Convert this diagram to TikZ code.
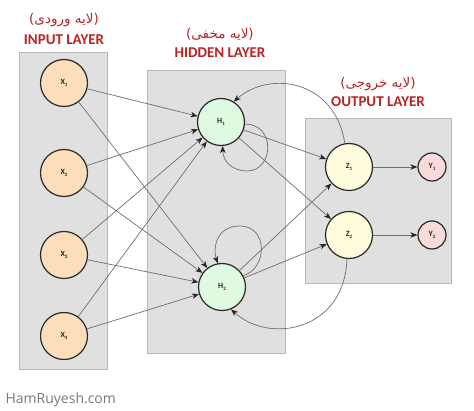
\documentclass[tikz,border=0pt]{standalone}
\usepackage{fontspec}
\setmainfont{Carlito}
\newfontfamily\arabicfont[Script=Arabic]{DejaVu Sans}
\newfontfamily\wmfont{Open Sans}
\TeXXeTstate=1
\usetikzlibrary{arrows.meta}
\definecolor{boxfill}{RGB}{224,224,224}
\definecolor{boxborder}{RGB}{185,185,185}
\definecolor{nodeborder}{RGB}{40,40,40}
\definecolor{infill}{RGB}{253,222,186}
\definecolor{hidfill}{RGB}{222,250,224}
\definecolor{outfill}{RGB}{255,252,222}
\definecolor{yfill}{RGB}{250,218,218}
\definecolor{titlered}{RGB}{185,35,35}
\definecolor{linegray}{RGB}{110,110,110}
\definecolor{wmgray}{RGB}{120,120,120}
\newcommand{\nlab}[2]{#1{\fontsize{5}{5}\selectfont\raisebox{-1.6pt}{#2}}}
\begin{document}
\begin{tikzpicture}[x=1pt,y=-1pt,
  layerbox/.style={draw=boxborder, fill=boxfill, line width=0.9pt, inner sep=0pt},
  neuron/.style={circle, draw=nodeborder, line width=1.2pt, inner sep=0pt, minimum size=47pt,
    font=\bfseries\fontsize{8}{8}\selectfont, text=black!85},
  smallneuron/.style={neuron, minimum size=28pt},
  conn/.style={draw=linegray, line width=0.7pt, -{Stealth[length=7pt,width=5.5pt,inset=2pt,color=black!85]}},
  entitle/.style={font=\bfseries\fontsize{15}{15}\selectfont, text=titlered},
  fatitle/.style={font=\arabicfont\fontsize{13.5}{13.5}\selectfont, text=titlered}
]
\useasboundingbox (0,0) rectangle (474,411);
% layer boxes
\node[layerbox, minimum width=88pt, minimum height=317pt] (inbox) at (63,210.5) {};
\node[layerbox, minimum width=138pt, minimum height=283pt] (hidbox) at (216,211.5) {};
\node[layerbox, minimum width=146pt, minimum height=165pt] (outbox) at (378,200.5) {};
% titles
\node[fatitle] (fain) at (64,20) {\beginR(لایه ورودی)\endR};
\node[entitle] (enin) at (64,40) {INPUT LAYER};
\node[fatitle] (fahid) at (220,34) {\beginR(لایه مخفی)\endR};
\node[entitle] (enhid) at (220,53) {HIDDEN LAYER};
\node[fatitle] (faout) at (378,84) {\beginR(لایه خروجی)\endR};
\node[entitle] (enout) at (378,102) {OUTPUT LAYER};
% neurons
\node[neuron, fill=infill] (x1) at (64,83) {\nlab{X}{1}};
\node[neuron, fill=infill] (x2) at (64,173) {\nlab{X}{2}};
\node[neuron, fill=infill] (x3) at (64,255) {\nlab{X}{3}};
\node[neuron, fill=infill] (x4) at (64,336) {\nlab{X}{4}};
\node[neuron, fill=hidfill] (h1) at (221,122) {\nlab{H}{1}};
\node[neuron, fill=hidfill] (h2) at (222,287) {\nlab{H}{2}};
\node[neuron, fill=outfill] (z1) at (349,167) {\nlab{Z}{1}};
\node[neuron, fill=outfill] (z2) at (349,235) {\nlab{Z}{2}};
\node[smallneuron, fill=yfill] (y1) at (432,167) {\nlab{Y}{1}};
\node[smallneuron, fill=yfill] (y2) at (432,235) {\nlab{Y}{2}};
% input to hidden
\foreach \i in {1,2,3,4}{
  \draw[conn] (x\i) -- (h1);
  \draw[conn] (x\i) -- (h2);
}
% hidden to output
\draw[conn] (h1) -- (z1);
\draw[conn] (h1) -- (z2);
\draw[conn] (h2) -- (z1);
\draw[conn] (h2) -- (z2);
% output to y
\draw[conn] (z1) -- (y1);
\draw[conn] (z2) -- (y2);
% self loops
\draw[conn] (h1.-5) .. controls (276,124) and (274,171) .. (247,171)
                    .. controls (233,171) and (223,162) .. (h1.-86);
\draw[conn] (h2.28) .. controls (268,268) and (268,226) .. (240,226)
                    .. controls (215,226) and (213,250) .. (h2.100);
% feedback
\draw[conn] (z1.100) .. controls (335,80) and (270,70) .. (h1.58);
\draw[conn] (z2.-95) .. controls (345,330) and (270,345) .. (h2.-68);
% watermark
\node[font=\wmfont\fontsize{14}{14}\selectfont, text=wmgray, anchor=west] (wm) at (2,400) {HamRuyesh.com};
\end{tikzpicture}
\end{document}
